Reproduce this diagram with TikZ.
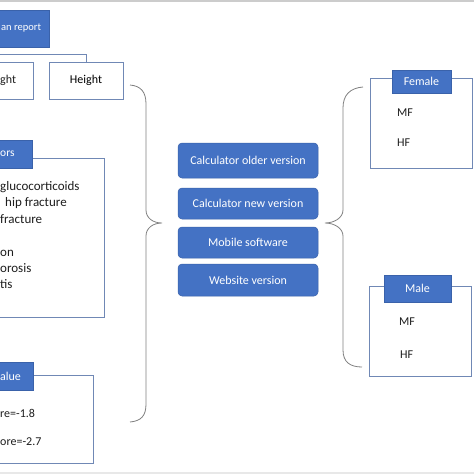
\documentclass[tikz,border=0pt]{standalone}
\usepackage{fontspec}
\setmainfont{Carlito}
\definecolor{hdrblue}{HTML}{4472C4}
\definecolor{hdredge}{HTML}{3A62AA}
\definecolor{frameblue}{HTML}{7088B5}
\definecolor{bracegray}{HTML}{808080}
\definecolor{bodytext}{HTML}{1E1E1E}
\begin{document}
\begin{tikzpicture}[x=1pt,y=-1pt,
  frame/.style={draw=frameblue, line width=0.8pt, fill=white, inner sep=0pt, rectangle},
  hdr/.style={draw=hdredge, line width=0.5pt, fill=hdrblue, text=white, inner sep=0pt, rectangle, font=\fontsize{12}{14}\selectfont},
  pill/.style={draw=hdredge, line width=0.5pt, fill=hdrblue, text=white, rounded corners=4pt, inner sep=0pt, minimum width=140pt, font=\fontsize{12}{14}\selectfont},
  txt/.style={anchor=west, inner sep=0pt, text=bodytext, font=\fontsize{13}{15}\selectfont},
  small/.style={anchor=west, inner sep=0pt, text=bodytext, font=\fontsize{12}{14}\selectfont},
  bracepath/.style={draw=bracegray, line width=0.8pt},
  conn/.style={draw=frameblue, line width=0.8pt}]
\useasboundingbox (0,0) rectangle (474,474);
\clip (0,0) rectangle (474,474);
\fill[white] (0,0) rectangle (474,474);
\fill[black!20] (0,0) rectangle (474,2);
\fill[black!9] (0,472) rectangle (474,474);

% top-left report box and its two children
\node[hdr, minimum width=119pt, minimum height=37pt] (report) at (-10.5,28.5) {};
\node[anchor=west, inner sep=0pt, text=white, font=\fontsize{10.5}{12}\selectfont] (reporttext) at (1,28.5) {an report};
\node[frame, minimum width=74pt, minimum height=37pt] (weight) at (-4,80.5) {};
\node[small] (weighttext) at (0,80.5) {ght};
\node[frame, minimum width=74pt, minimum height=37pt, font=\fontsize{12}{14}\selectfont] (height) at (86,80.5) {Height};
\draw[conn] (report.south) -- ++(0,7) -| (height.north);
\draw[conn] (report.south) -- ++(0,7) -| (weight.north);

% risk factors box
\node[frame, minimum width=164pt, minimum height=159pt] (risk) at (22,237.5) {};
\node[hdr, minimum width=92pt, minimum height=28pt] (riskhdr) at (-14,154) {};
\node[anchor=west, inner sep=0pt, text=white, font=\fontsize{11.5}{13}\selectfont] (riskhdrtext) at (0,154) {ors};
\node[txt] (r1) at (0,187) {glucocorticoids};
\node[txt] (r2) at (5,203) {hip fracture};
\node[txt] (r3) at (0,219) {fracture};
\node[txt] (r4) at (0,253) {on};
\node[txt] (r5) at (0,268.5) {orosis};
\node[txt] (r6) at (0,284) {tis};

% value box
\node[frame, minimum width=153pt, minimum height=88pt] (val) at (16.5,419) {};
\node[hdr, minimum width=93pt, minimum height=28pt] (valhdr) at (-13.5,376) {};
\node[anchor=west, inner sep=0pt, text=white, font=\fontsize{12}{14}\selectfont] (valhdrtext) at (0,376) {alue};
\node[small] (v1) at (0,413) {re=-1.8};
\node[small] (v2) at (0,442) {ore=-2.7};

% centre versions
\node[pill, minimum height=35pt] (older) at (248,160.5) {Calculator older version};
\node[pill, minimum height=31pt] (newv) at (248,203.5) {Calculator new version};
\node[pill, minimum height=31pt] (mobile) at (248,242.5) {Mobile software};
\node[pill, minimum height=32pt] (web) at (248,280) {Website version};

% female box
\node[frame, minimum width=102pt, minimum height=90pt] (female) at (421,123) {};
\node[hdr, minimum width=59pt, minimum height=23pt] (femhdr) at (421.5,81.5) {Female};
\node[small] (fmf) at (397,113) {MF};
\node[small] (fhf) at (397,143) {HF};

% male box
\node[frame, minimum width=102pt, minimum height=90pt] (male) at (420,331) {};
\node[hdr, minimum width=67pt, minimum height=27pt] (malehdr) at (417.5,288.5) {Male};
\node[small] (mmf) at (399,322) {MF};
\node[small] (mhf) at (400,355) {HF};

% braces
\draw[bracepath] (130,85) .. controls (141,86) and (146,92) .. (146,104) -- (146,210)
  .. controls (146,218) and (153,223) .. (162,223)
  .. controls (153,223) and (146,228) .. (146,236) -- (146,404)
  .. controls (146,416) and (141,421) .. (130,422);
\draw[bracepath] (363,87) .. controls (350,88) and (343,95) .. (343,108) -- (343,210)
  .. controls (343,218) and (334,223) .. (325,223)
  .. controls (334,223) and (343,228) .. (343,236) -- (343,350)
  .. controls (343,362) and (350,367) .. (362,367);
\end{tikzpicture}
\end{document}
